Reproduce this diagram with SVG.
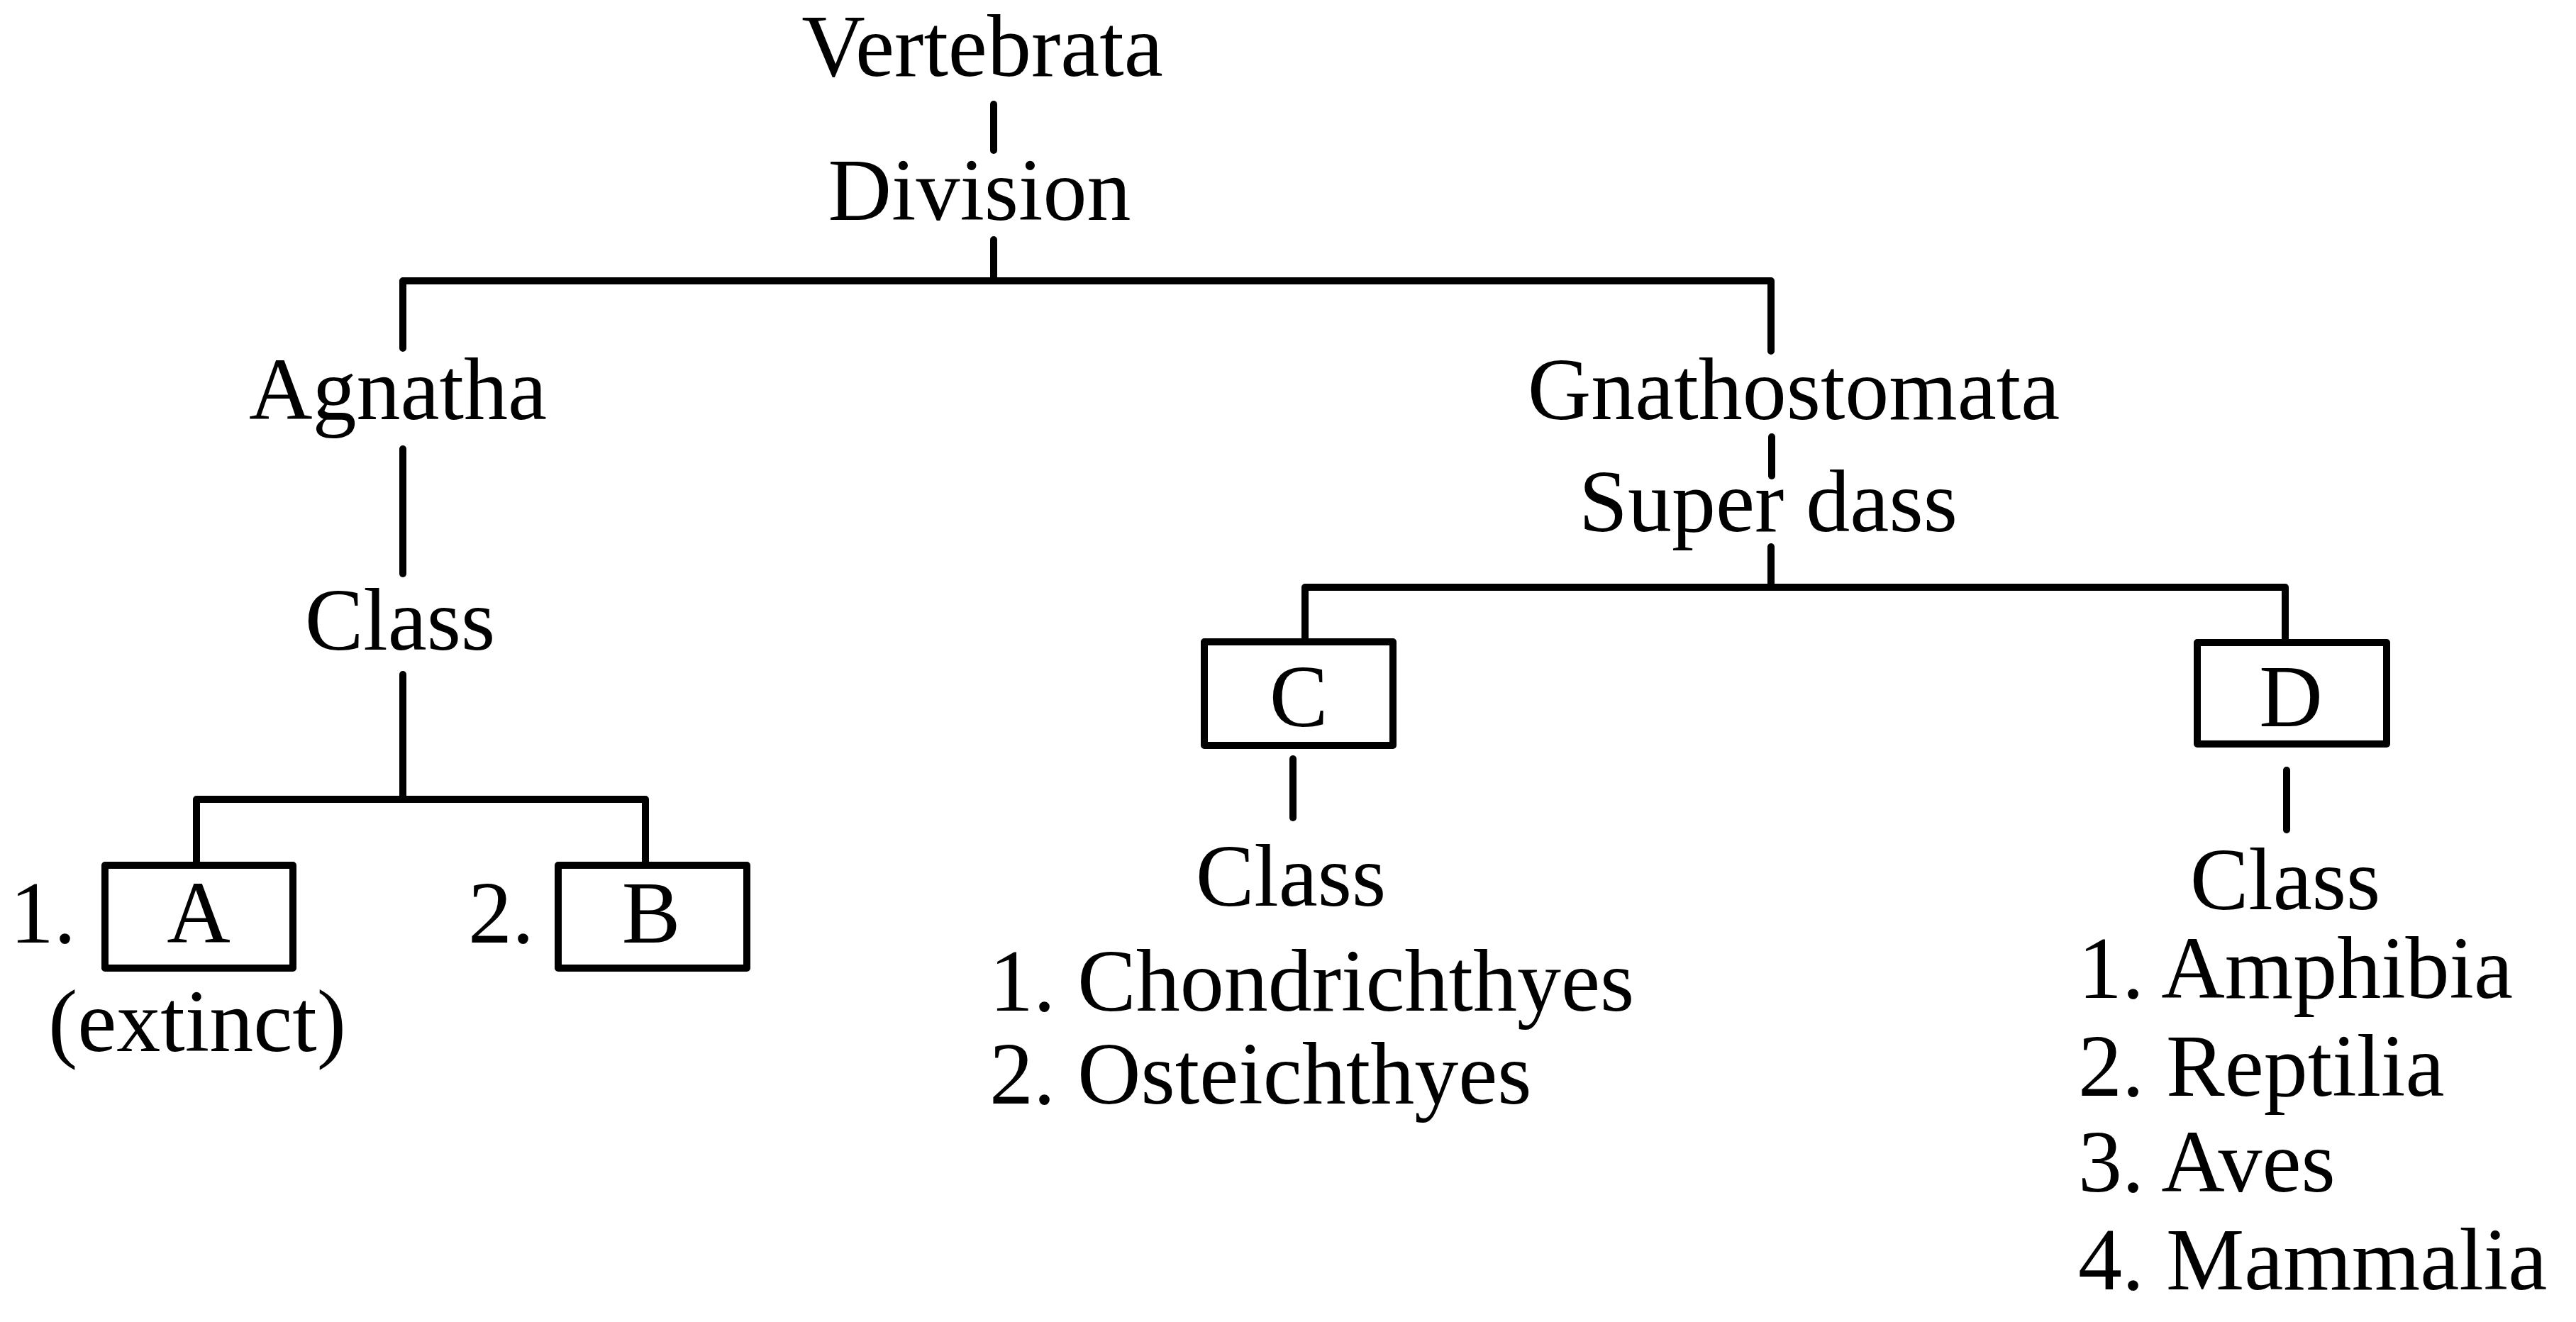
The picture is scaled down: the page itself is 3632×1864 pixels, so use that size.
<svg xmlns="http://www.w3.org/2000/svg" width="3632" height="1864" viewBox="0 0 3632 1864">
<style>
text{font-family:"Liberation Serif","Times New Roman",serif;font-size:124px;fill:#000}
.c{text-anchor:middle}
.ln{stroke:#000;stroke-width:10;fill:none;stroke-linecap:round;stroke-linejoin:round}
.box{stroke:#000;stroke-width:10;fill:#fff;stroke-linejoin:round}
</style>
<rect width="3632" height="1864" fill="#fff"/>
<g id="connectors" class="ln">
<path d="M1401 147V212"/>
<path d="M1401 338V396"/>
<path d="M568 491V396H2497V495"/>
<path d="M568 633V809"/>
<path d="M568 951V1127"/>
<path d="M277 1220V1127H910V1220"/>
<path d="M2498 616V671"/>
<path d="M2497 771V828"/>
<path d="M1840 905V828H3222V906"/>
<path d="M1823 1070V1153"/>
<path d="M3224 1086V1170"/>
</g>
<g id="vertebrata"><text class="c" x="1385" y="107">Vertebrata</text></g>
<g id="division"><text class="c" x="1381" y="310">Division</text></g>
<g id="agnatha"><text class="c" x="561" y="591">Agnatha</text></g>
<g id="agnatha-class"><text class="c" x="564" y="916">Class</text></g>
<g id="nodeA">
<rect class="box" x="148" y="1220" width="265" height="145"/>
<text class="c" x="280" y="1329">A</text>
<text x="14" y="1329">1.</text>
<text x="68" y="1482">(extinct)</text>
</g>
<g id="nodeB">
<rect class="box" x="787" y="1220" width="266" height="145"/>
<text class="c" x="918" y="1329">B</text>
<text x="660" y="1329">2.</text>
</g>
<g id="gnathostomata"><text class="c" x="2529" y="591">Gnathostomata</text></g>
<g id="superclass"><text class="c" x="2493" y="749">Super dass</text></g>
<g id="nodeC">
<rect class="box" x="1698" y="905" width="266" height="146"/>
<text class="c" x="1831" y="1024">C</text>
</g>
<g id="nodeC-classes">
<text class="c" x="1820" y="1277">Class</text>
<text x="1395" y="1425">1. Chondrichthyes</text>
<text x="1395" y="1556">2. Osteichthyes</text>
</g>
<g id="nodeD">
<rect class="box" x="3098" y="906" width="267" height="143"/>
<text class="c" x="3230" y="1024">D</text>
</g>
<g id="nodeD-classes">
<text class="c" x="3222" y="1282">Class</text>
<text x="2930" y="1407">1. Amphibia</text>
<text x="2930" y="1545">2. Reptilia</text>
<text x="2930" y="1680">3. Aves</text>
<text x="2930" y="1818">4. Mammalia</text>
</g>
</svg>
